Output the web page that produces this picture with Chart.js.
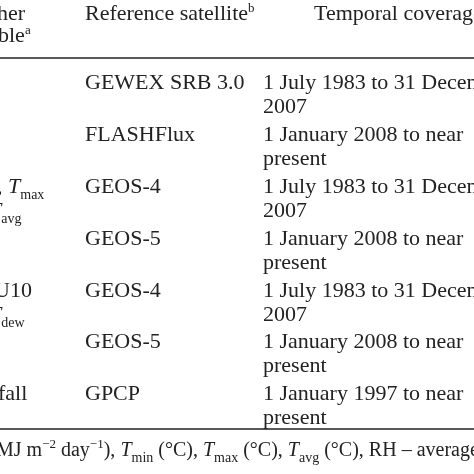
<!DOCTYPE html>
<html>
<head>
<meta charset="utf-8">
<script src="https://cdn.jsdelivr.net/npm/chart.js@4"></script>
<style>
  body { margin: 0; background: #fff; }
  #wrap { position: relative; width: 474px; height: 474px; overflow: hidden; font-family: "Liberation Serif", "DejaVu Serif", serif; color: #222; }
  #rules { position: absolute; left: 0; top: 0; }
  .t { position: absolute; white-space: nowrap; font-size: 22px; line-height: 22px; transform: translateY(-50%); }
  sup { font-size: 13px; vertical-align: 8px; line-height: 0; }
  sub { font-size: 14px; vertical-align: -6px; line-height: 0; }
</style>
</head>
<body>
<div id="wrap">
  <canvas id="rules" width="474" height="474"></canvas>
</div>
<script>
// header
const headers = [
  { x: -3, y: 13, html: "her" },
  { x: -2, y: 35, html: "ble<sup>a</sup>" },
  { x: 85, y: 13, html: "Reference satellite<sup>b</sup>" },
  { x: 314, y: 13, html: "Temporal coverage" }
];
// body rows
const rowY = [82, 134, 186, 238, 290, 341, 393];
const satellites = ["GEWEX SRB 3.0", "FLASHFlux", "GEOS-4", "GEOS-5", "GEOS-4", "GEOS-5", "GPCP"];
const coverage = [
  ["1 July 1983 to 31 December", "2007"],
  ["1 January 2008 to near", "present"],
  ["1 July 1983 to 31 December", "2007"],
  ["1 January 2008 to near", "present"],
  ["1 July 1983 to 31 December", "2007"],
  ["1 January 2008 to near", "present"],
  ["1 January 1997 to near", "present"]
];
const variables = [
  { row: 2, line: 0, x: -3, html: ", <i>T</i><sub>max</sub>" },
  { row: 2, line: 1, x: -11, html: "<i>T</i><sub>avg</sub>" },
  { row: 4, line: 0, x: -6, html: "U10" },
  { row: 4, line: 1, x: -11, html: "<i>T</i><sub>dew</sub>" },
  { row: 6, line: 0, x: -2, html: "fall" }
];
const footer = "MJ m<sup>\u22122</sup> day<sup>\u22121</sup>), <i>T</i><sub>min</sub> (\u00b0C), <i>T</i><sub>max</sub> (\u00b0C), <i>T</i><sub>avg</sub> (\u00b0C), RH \u2013 average";
// horizontal rules (y positions)
const ruleY = [58, 429];

const wrap = document.getElementById("wrap");
function addText(x, y, html, size) {
  const d = document.createElement("div");
  d.className = "t";
  d.style.left = x + "px";
  d.style.top = y + "px";
  if (size) d.style.fontSize = size + "px";
  d.innerHTML = html;
  wrap.appendChild(d);
}

headers.forEach(h => addText(h.x, h.y, h.html));
satellites.forEach((s, i) => {
  addText(85, rowY[i], s);
  coverage[i].forEach((c, j) => addText(263, rowY[i] + j * 24, c));
});
variables.forEach(v => addText(v.x, rowY[v.row] + v.line * 24, v.html));
addText(-4, 449, footer, 20);

new Chart(document.getElementById("rules"), {
  type: "line",
  data: {
    datasets: ruleY.map(y => ({
      data: [{ x: 0, y: y }, { x: 474, y: y }],
      borderColor: "#222",
      borderWidth: 1.6,
      pointRadius: 0
    }))
  },
  options: {
    responsive: false,
    animation: false,
    layout: { padding: 0 },
    plugins: { legend: { display: false }, tooltip: { enabled: false } },
    scales: {
      x: { type: "linear", min: 0, max: 474, display: false },
      y: { type: "linear", min: 0, max: 474, reverse: true, display: false }
    }
  }
});
</script>
</body>
</html>
